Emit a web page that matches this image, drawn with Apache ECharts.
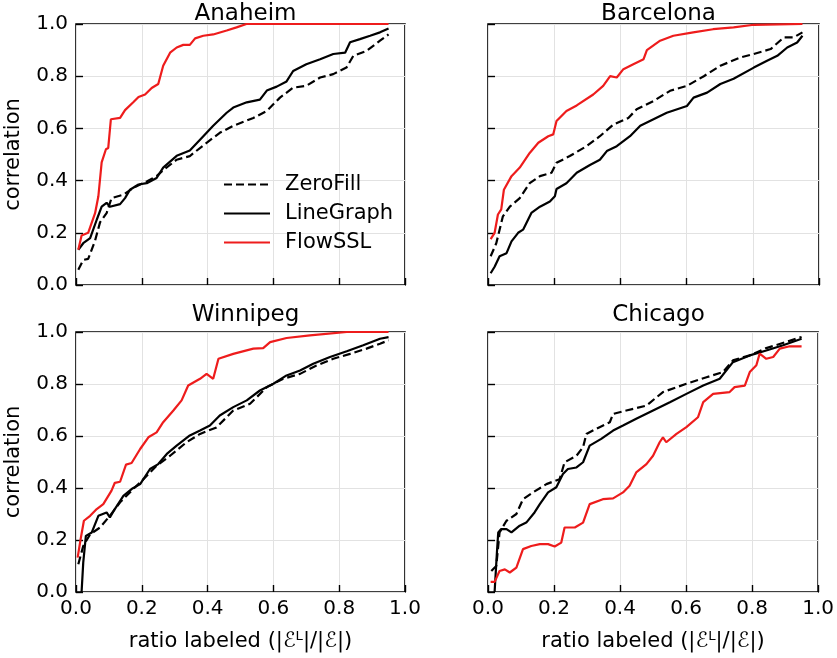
<!DOCTYPE html>
<html>
<head>
<meta charset="utf-8">
<script src="https://cdn.jsdelivr.net/npm/echarts@6/dist/echarts.min.js"></script>
<style>html,body{margin:0;padding:0;background:#fff}#c{width:837px;height:658px}</style>
</head>
<body>
<div id="c"></div>
<script>
// ---- data ----
const cities = ['Anaheim', 'Barcelona', 'Winnipeg', 'Chicago'];
const seriesNames = ['ZeroFill', 'LineGraph', 'FlowSSL'];
const tickValues = [0, 0.2, 0.4, 0.6, 0.8, 1.0];

const anaheimZeroFill = [[0.007,0.058],[0.022,0.096],[0.037,0.10],[0.058,0.17],[0.073,0.24],[0.093,0.275],[0.108,0.333],[0.144,0.346],[0.174,0.372],[0.215,0.397],[0.245,0.417],[0.265,0.44],[0.306,0.48],[0.346,0.494],[0.397,0.545],[0.437,0.583],[0.478,0.61],[0.539,0.64],[0.58,0.667],[0.62,0.718],[0.66,0.756],[0.70,0.763],[0.742,0.795],[0.782,0.808],[0.822,0.833],[0.843,0.878],[0.883,0.897],[0.924,0.936],[0.95,0.96]];
const anaheimLineGraph = [[0.007,0.135],[0.022,0.16],[0.043,0.18],[0.063,0.25],[0.078,0.30],[0.093,0.315],[0.103,0.30],[0.134,0.31],[0.149,0.333],[0.164,0.365],[0.19,0.385],[0.215,0.39],[0.245,0.41],[0.265,0.45],[0.306,0.495],[0.346,0.515],[0.387,0.57],[0.417,0.61],[0.458,0.66],[0.478,0.68],[0.519,0.70],[0.559,0.71],[0.58,0.745],[0.61,0.76],[0.64,0.78],[0.66,0.82],[0.70,0.846],[0.742,0.865],[0.782,0.885],[0.818,0.89],[0.833,0.93],[0.863,0.942],[0.894,0.955],[0.924,0.968],[0.95,0.983]];
const anaheimFlowSSL = [[0.007,0.135],[0.017,0.19],[0.037,0.2],[0.058,0.275],[0.068,0.34],[0.078,0.47],[0.091,0.52],[0.098,0.525],[0.106,0.635],[0.134,0.64],[0.149,0.67],[0.174,0.70],[0.19,0.72],[0.21,0.73],[0.23,0.755],[0.25,0.77],[0.265,0.84],[0.286,0.89],[0.306,0.91],[0.326,0.92],[0.346,0.92],[0.362,0.945],[0.387,0.955],[0.417,0.96],[0.458,0.975],[0.488,0.987],[0.518,1.0],[0.95,1.0]];

const barcelonaZeroFill = [[0.008,0.11],[0.025,0.16],[0.045,0.263],[0.066,0.30],[0.096,0.333],[0.126,0.39],[0.157,0.417],[0.192,0.43],[0.207,0.468],[0.247,0.494],[0.298,0.532],[0.338,0.57],[0.379,0.615],[0.424,0.64],[0.449,0.673],[0.5,0.705],[0.55,0.744],[0.601,0.763],[0.652,0.80],[0.702,0.84],[0.763,0.872],[0.803,0.885],[0.854,0.904],[0.894,0.949],[0.924,0.949],[0.95,0.968]];
const barcelonaLineGraph = [[0.008,0.045],[0.02,0.07],[0.035,0.11],[0.056,0.122],[0.071,0.167],[0.091,0.2],[0.106,0.212],[0.131,0.276],[0.157,0.30],[0.187,0.32],[0.202,0.34],[0.207,0.368],[0.237,0.39],[0.268,0.43],[0.308,0.46],[0.338,0.48],[0.359,0.513],[0.389,0.532],[0.429,0.57],[0.46,0.61],[0.5,0.635],[0.54,0.66],[0.601,0.686],[0.621,0.718],[0.662,0.737],[0.702,0.77],[0.742,0.79],[0.803,0.833],[0.843,0.859],[0.874,0.878],[0.904,0.91],[0.934,0.929],[0.95,0.955]];
const barcelonaFlowSSL = [[0.008,0.176],[0.02,0.2],[0.03,0.27],[0.04,0.29],[0.048,0.365],[0.071,0.417],[0.096,0.45],[0.126,0.506],[0.152,0.545],[0.182,0.57],[0.197,0.577],[0.207,0.628],[0.237,0.667],[0.268,0.688],[0.318,0.73],[0.348,0.763],[0.369,0.80],[0.389,0.795],[0.409,0.827],[0.439,0.846],[0.47,0.865],[0.48,0.90],[0.52,0.936],[0.56,0.955],[0.62,0.968],[0.68,0.98],[0.742,0.987],[0.803,0.997],[0.95,1.0]];

const winnipegZeroFill = [[0.007,0.107],[0.022,0.177],[0.043,0.222],[0.073,0.248],[0.103,0.293],[0.134,0.345],[0.174,0.396],[0.205,0.434],[0.245,0.486],[0.286,0.524],[0.336,0.576],[0.377,0.608],[0.427,0.633],[0.478,0.698],[0.529,0.724],[0.58,0.788],[0.63,0.82],[0.681,0.839],[0.731,0.871],[0.782,0.897],[0.833,0.916],[0.883,0.936],[0.924,0.955],[0.95,0.968]];
const winnipegLineGraph = [[0.017,0.0],[0.022,0.113],[0.03,0.216],[0.048,0.229],[0.068,0.293],[0.093,0.306],[0.103,0.287],[0.118,0.319],[0.144,0.37],[0.169,0.396],[0.195,0.415],[0.225,0.473],[0.25,0.492],[0.276,0.531],[0.306,0.563],[0.346,0.602],[0.377,0.621],[0.407,0.64],[0.437,0.679],[0.478,0.711],[0.519,0.737],[0.559,0.775],[0.6,0.801],[0.64,0.833],[0.681,0.852],[0.721,0.878],[0.772,0.904],[0.823,0.926],[0.873,0.949],[0.924,0.974],[0.95,0.98]];
const winnipegFlowSSL = [[0.005,0.132],[0.014,0.203],[0.024,0.274],[0.043,0.293],[0.063,0.319],[0.083,0.338],[0.108,0.39],[0.118,0.42],[0.134,0.424],[0.152,0.49],[0.169,0.496],[0.195,0.55],[0.22,0.595],[0.245,0.614],[0.265,0.653],[0.296,0.698],[0.321,0.737],[0.341,0.794],[0.377,0.82],[0.397,0.839],[0.417,0.82],[0.433,0.897],[0.478,0.916],[0.539,0.936],[0.569,0.938],[0.59,0.961],[0.64,0.977],[0.711,0.987],[0.823,1.0],[0.95,1.0]];

const chicagoZeroFill = [[0.01,0.081],[0.025,0.10],[0.035,0.229],[0.056,0.274],[0.086,0.30],[0.106,0.357],[0.136,0.383],[0.177,0.415],[0.217,0.434],[0.232,0.499],[0.268,0.524],[0.288,0.557],[0.298,0.608],[0.338,0.634],[0.369,0.653],[0.379,0.685],[0.419,0.698],[0.48,0.717],[0.53,0.769],[0.601,0.801],[0.662,0.826],[0.712,0.846],[0.742,0.891],[0.793,0.91],[0.843,0.938],[0.904,0.962],[0.95,0.981]];
const chicagoLineGraph = [[0.02,0.0],[0.027,0.152],[0.031,0.229],[0.04,0.242],[0.056,0.242],[0.071,0.229],[0.096,0.255],[0.116,0.267],[0.141,0.306],[0.157,0.338],[0.182,0.383],[0.207,0.403],[0.227,0.454],[0.242,0.473],[0.268,0.479],[0.288,0.499],[0.308,0.563],[0.343,0.589],[0.379,0.621],[0.409,0.64],[0.449,0.666],[0.5,0.698],[0.551,0.73],[0.601,0.762],[0.652,0.794],[0.702,0.82],[0.742,0.884],[0.793,0.91],[0.843,0.929],[0.894,0.949],[0.95,0.974]];
const chicagoFlowSSL = [[0.008,0.039],[0.02,0.039],[0.035,0.081],[0.051,0.087],[0.066,0.075],[0.086,0.094],[0.106,0.165],[0.131,0.177],[0.157,0.184],[0.182,0.184],[0.202,0.175],[0.222,0.19],[0.232,0.248],[0.263,0.248],[0.288,0.267],[0.308,0.338],[0.348,0.357],[0.379,0.36],[0.409,0.383],[0.429,0.409],[0.449,0.46],[0.48,0.492],[0.5,0.524],[0.52,0.576],[0.53,0.595],[0.54,0.576],[0.571,0.608],[0.601,0.634],[0.636,0.672],[0.652,0.73],[0.682,0.762],[0.732,0.769],[0.747,0.788],[0.778,0.794],[0.793,0.846],[0.813,0.872],[0.823,0.917],[0.843,0.897],[0.864,0.904],[0.884,0.936],[0.914,0.945],[0.95,0.945]];

const cityData = [
  [anaheimZeroFill, anaheimLineGraph, anaheimFlowSSL],
  [barcelonaZeroFill, barcelonaLineGraph, barcelonaFlowSSL],
  [winnipegZeroFill, winnipegLineGraph, winnipegFlowSSL],
  [chicagoZeroFill, chicagoLineGraph, chicagoFlowSSL]
];

// ---- layout / style ----
const FONT = 'DejaVu Sans';
const grids = [
  {left: 76, top: 24, width: 329, height: 261},
  {left: 488, top: 24, width: 331, height: 261},
  {left: 76, top: 332, width: 329, height: 260},
  {left: 488, top: 332, width: 331, height: 260}
];
const lineStyles = [
  {color: '#000', width: 2.2, type: [8, 4]},
  {color: '#000', width: 2.2, type: 'solid'},
  {color: '#ee1c1c', width: 2.2, type: 'solid'}
];

const option = {
  animation: false,
  backgroundColor: '#fff',
  title: grids.map((g, i) => ({
    text: cities[i],
    left: g.left + g.width / 2,
    top: i < 2 ? -2 : 299,
    textAlign: 'center',
    textStyle: {fontFamily: FONT, fontSize: 23, fontWeight: 'normal', color: '#000'}
  })),
  legend: {
    data: seriesNames,
    orient: 'vertical',
    left: 218,
    top: 169,
    itemWidth: 46,
    itemHeight: 14,
    itemGap: 8,
    itemStyle: {opacity: 0},
    textStyle: {fontFamily: FONT, fontSize: 21, color: '#000', padding: [0, 0, 0, 10]}
  },
  grid: grids.map(g => Object.assign({show: true, borderColor: '#000', borderWidth: 1.6, backgroundColor: 'transparent'}, g)),
  xAxis: grids.map((g, i) => ({
    type: 'value', gridIndex: i, min: 0, max: 1, interval: 0.2,
    name: i >= 2 ? 'ratio labeled (|ℰᴸ|/|ℰ|)' : '',
    nameLocation: 'middle', nameGap: 39,
    nameTextStyle: {fontFamily: FONT, fontSize: 21, color: '#000'},
    axisLine: {show: false},
    axisTick: {show: true, inside: true, length: 7, lineStyle: {color: '#000', width: 1.4}},
    axisLabel: {show: i >= 2, fontFamily: FONT, fontSize: 20, color: '#000', margin: 7,
      formatter: v => v.toFixed(1)},
    splitLine: {show: true, lineStyle: {color: '#e2e2e2', width: 1}}
  })),
  yAxis: grids.map((g, i) => ({
    type: 'value', gridIndex: i, min: 0, max: 1, interval: 0.2,
    name: i % 2 === 0 ? 'correlation' : '',
    nameLocation: 'middle', nameGap: 52,
    nameTextStyle: {fontFamily: FONT, fontSize: 21, color: '#000'},
    axisLine: {show: false},
    axisTick: {show: true, inside: true, length: 7, lineStyle: {color: '#000', width: 1.4}},
    axisLabel: {show: i % 2 === 0, fontFamily: FONT, fontSize: 20, color: '#000', margin: 8,
      formatter: v => v.toFixed(1)},
    splitLine: {show: true, lineStyle: {color: '#e2e2e2', width: 1}}
  })),
  series: []
};

cityData.forEach((sets, gi) => {
  sets.forEach((d, si) => {
    option.series.push({
      type: 'line', name: seriesNames[si], xAxisIndex: gi, yAxisIndex: gi,
      data: d, symbol: 'none', showSymbol: false, clip: true,
      lineStyle: lineStyles[si], itemStyle: {color: lineStyles[si].color},
      z: 2 + si
    });
  });
});

const chart = echarts.init(document.getElementById('c'), null, {renderer: 'canvas'});
chart.setOption(option);
</script>
</body>
</html>
